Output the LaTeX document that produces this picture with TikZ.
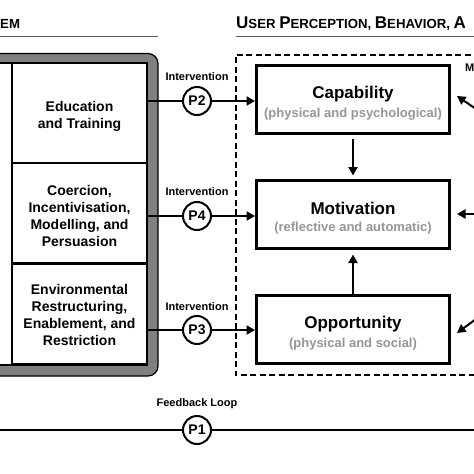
\documentclass[tikz,border=0pt]{standalone}
\usepackage{fontspec}
\setmainfont{Liberation Sans}
\usetikzlibrary{arrows.meta}
\definecolor{boxgray}{RGB}{128,128,128}
\definecolor{subgray}{RGB}{150,150,150}
\definecolor{rulegray}{RGB}{90,90,90}
\newcommand\hdcap[1]{{\fontsize{17}{20}\selectfont #1}}
\newcommand\pushdown[1]{\rule{0pt}{#1}}
\begin{document}
\begin{tikzpicture}[x=1pt,y=-1pt,
  cell/.style={draw, line width=2pt, minimum width=135pt, minimum height=100pt, align=center, inner sep=0pt,
    font=\bfseries\fontsize{14}{17}\selectfont},
  pcircle/.style={draw, circle, line width=2pt, minimum size=28pt, inner sep=0pt, fill=white,
    font=\bfseries\fontsize{14}{14}\selectfont},
  comp/.style={draw, line width=3pt, minimum width=193pt, minimum height=68pt, align=center, inner sep=0pt, fill=white},
  conn/.style={line width=2pt},
  arr/.style={line width=2pt, -{Triangle[length=8.5pt,width=9pt]}},
  lab/.style={font=\bfseries\fontsize{11}{13}\selectfont, inner sep=0pt},
  head/.style={font=\bfseries\fontsize{13.2}{15}\selectfont, inner sep=0pt, anchor=base west}
]
\useasboundingbox (0,0) rectangle (474,474);
% headings
\node[head] (hl) at (0,28.5) {EM};
\node[head] (hr) at (236,28.5) {\hdcap{U}SER \hdcap{P}ERCEPTION, \hdcap{B}EHAVIOR, \hdcap{A}};
\draw[rulegray, line width=1.5pt] (0,36.5) -- (158,36.5);
\draw[rulegray, line width=1.5pt] (236,36.5) -- (480,36.5);
% grey frame
\draw[fill=boxgray, line width=1.2pt, rounded corners=10pt] (-30,53.5) rectangle (158,376);
\draw[fill=white, line width=2pt] (-30,63) rectangle (147,365);
% cells
\node[cell] (edu) at (79.5,113) {\pushdown{16pt}Education\\and Training};
\node[cell] (coe) at (79.5,213) {\pushdown{16pt}Coercion,\\Incentivisation,\\Modelling, and\\Persuasion};
\node[cell] (env) at (79.5,314) {\pushdown{12pt}Environmental\\Restructuring,\\Enablement, and\\Restriction};
% dashed region
\draw[line width=2pt, dash pattern=on 6pt off 3.5pt] (480,54.5) -- (235.5,54.5) -- (235.5,375) -- (480,375);
% COM-B boxes
\node[comp] (cap) at (353,99.5) {\pushdown{20pt}{\fontsize{17}{20}\selectfont\bfseries Capability}\\[5pt]{\color{subgray}\fontsize{13}{15}\selectfont\bfseries (physical and psychological)}};
\node[comp] (mot) at (353,214) {\pushdown{20pt}{\fontsize{17}{20}\selectfont\bfseries Motivation}\\[5pt]{\color{subgray}\fontsize{13}{15}\selectfont\bfseries (reflective and automatic)}};
\node[comp] (opp) at (353,329) {\pushdown{20pt}{\fontsize{17}{20}\selectfont\bfseries Opportunity}\\[5pt]{\color{subgray}\fontsize{13}{15}\selectfont\bfseries (physical and social)}};
% intervention circles
\node[pcircle] (p2) at (197,101) {P2};
\node[pcircle] (p4) at (197,216) {P4};
\node[pcircle] (p3) at (197,330) {P3};
\node[pcircle] (p1) at (197,430) {P1};
\node[lab] (l2) at (197,77) {Intervention};
\node[lab] (l4) at (197,192) {Intervention};
\node[lab] (l3) at (197,307) {Intervention};
\node[lab] (l1) at (197,404) {Feedback Loop};
% connectors
\draw[conn] (p2 -| edu.east) -- (p2);
\draw[arr] (p2) -- (p2 -| cap.west);
\draw[conn] (p4 -| coe.east) -- (p4);
\draw[arr] (p4) -- (p4 -| mot.west);
\draw[conn] (p3 -| env.east) -- (p3);
\draw[arr] (p3) -- (p3 -| opp.west);
\draw[arr] ([yshift=-4pt]cap.south) -- ([yshift=3pt]mot.north);
\draw[arr] ([yshift=-1pt]opp.north) -- ([yshift=-5pt]mot.south);
\coordinate (fbL) at (-5,430);
\coordinate (fbR) at (480,430);
\draw[conn] (fbL) -- (p1) -- (fbR);
% right-side incoming arrows
\node[font=\bfseries\fontsize{11}{13}\selectfont, anchor=base west, inner sep=0pt] (m) at (465,71) {M};
\coordinate (a1s) at (476,109);
\coordinate (a1e) at (457,96);
\draw[arr] (a1s) -- (a1e);
\coordinate (a2s) at (478,214);
\coordinate (a2e) at (457,214);
\draw[arr] (a2s) -- (a2e);
\coordinate (a3s) at (476,319);
\coordinate (a3e) at (457,333);
\draw[arr] (a3s) -- (a3e);
\end{tikzpicture}
\end{document}
